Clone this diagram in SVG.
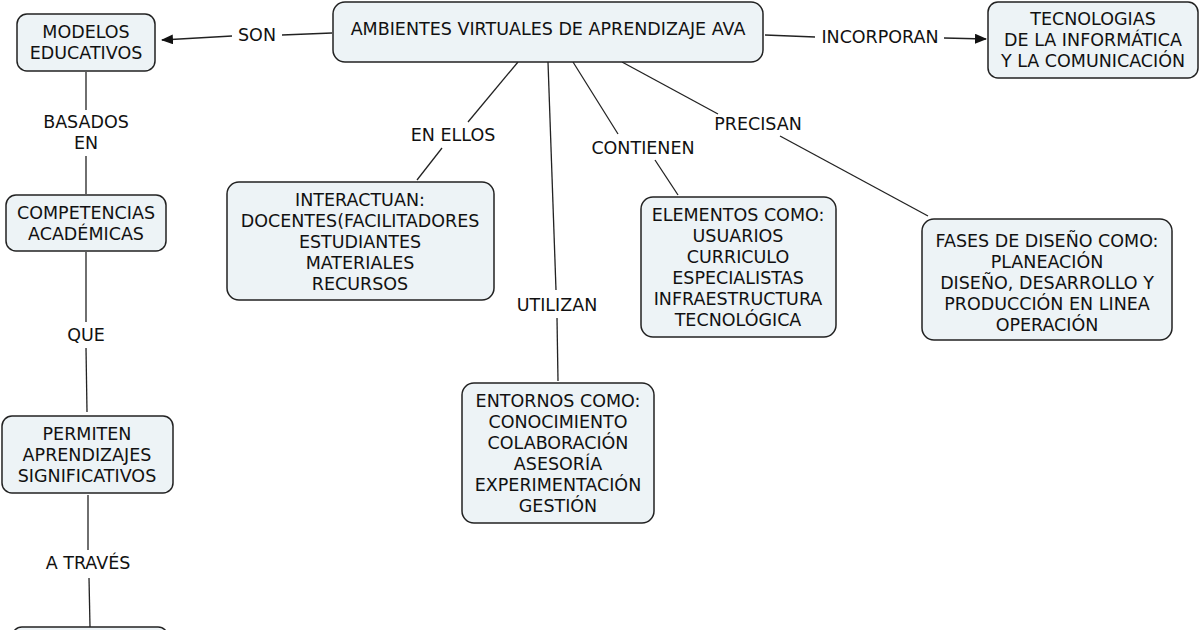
<svg xmlns="http://www.w3.org/2000/svg" width="1200" height="630" viewBox="0 0 1200 630">
<style>
.n rect{fill:#edf3f6;stroke:#222;stroke-width:1.5}
text{font-family:"DejaVu Sans",Verdana,sans-serif;font-size:17.5px;fill:#111;text-anchor:middle}
.c line{stroke:#222;stroke-width:1.3}
</style>
<defs><marker id="a" markerWidth="12" markerHeight="10" refX="11" refY="5" orient="auto" markerUnits="userSpaceOnUse"><path d="M0,0L12,5L0,10z" fill="#111"/></marker></defs>
<rect width="1200" height="630" fill="#fff"/>
<g class="c">
<line x1="332" y1="33" x2="282" y2="35"/><line x1="232" y1="36" x2="162" y2="40" marker-end="url(#a)"/>
<line x1="765" y1="35" x2="815" y2="37"/><line x1="944" y1="38" x2="986" y2="39" marker-end="url(#a)"/>
<line x1="86" y1="72" x2="86" y2="110"/><line x1="86" y1="156" x2="86" y2="194"/>
<line x1="86" y1="252" x2="86" y2="322"/><line x1="86" y1="348" x2="87" y2="412"/>
<line x1="88" y1="495" x2="88" y2="550"/><line x1="89" y1="578" x2="90" y2="627"/>
<line x1="518" y1="62" x2="468" y2="122"/><line x1="442" y1="148" x2="417" y2="180"/>
<line x1="548" y1="62" x2="556" y2="290"/><line x1="557" y1="318" x2="558" y2="381"/>
<line x1="573" y1="62" x2="618" y2="134"/><line x1="655" y1="160" x2="678" y2="195"/>
<line x1="622" y1="62" x2="718" y2="114"/><line x1="780" y1="136" x2="928" y2="216"/>
</g>
<g class="l">
<text x="257" y="41">SON</text><text x="880" y="43">INCORPORAN</text>
<text x="86" y="128">BASADOS</text><text x="86" y="149">EN</text>
<text x="86" y="341">QUE</text><text x="88" y="569">A TRAVÉS</text>
<text x="453" y="141">EN ELLOS</text><text x="557" y="311">UTILIZAN</text>
<text x="643" y="154">CONTIENEN</text><text x="758" y="130">PRECISAN</text>
</g>
<g id="ava" class="n"><rect x="333" y="2" width="430" height="60" rx="12"/><text x="548" y="35">AMBIENTES VIRTUALES DE APRENDIZAJE AVA</text></g>
<g id="modelos" class="n"><rect x="17" y="14" width="138" height="57" rx="10"/><text x="86" y="38">MODELOS</text><text x="86" y="59">EDUCATIVOS</text></g>
<g id="tic" class="n"><rect x="988" y="2" width="210" height="76" rx="10"/><text x="1093" y="25">TECNOLOGIAS</text><text x="1093" y="46">DE LA INFORMÁTICA</text><text x="1093" y="67">Y LA COMUNICACIÓN</text></g>
<g id="comp" class="n"><rect x="6" y="195" width="160" height="56" rx="10"/><text x="86" y="219">COMPETENCIAS</text><text x="86" y="240">ACADÉMICAS</text></g>
<g id="permiten" class="n"><rect x="2" y="416" width="171" height="77" rx="10"/><text x="87" y="440">PERMITEN</text><text x="87" y="461">APRENDIZAJES</text><text x="87" y="482">SIGNIFICATIVOS</text></g>
<g id="bottom" class="n"><rect x="12" y="627" width="156" height="40" rx="10"/></g>
<g id="interact" class="n"><rect x="227" y="182" width="267" height="118" rx="12"/><text x="360" y="206">INTERACTUAN:</text><text x="360" y="227">DOCENTES(FACILITADORES</text><text x="360" y="248">ESTUDIANTES</text><text x="360" y="269">MATERIALES</text><text x="360" y="290">RECURSOS</text></g>
<g id="entornos" class="n"><rect x="462" y="383" width="192" height="140" rx="12"/><text x="558" y="407">ENTORNOS COMO:</text><text x="558" y="428">CONOCIMIENTO</text><text x="558" y="449">COLABORACIÓN</text><text x="558" y="470">ASESORÍA</text><text x="558" y="491">EXPERIMENTACIÓN</text><text x="558" y="512">GESTIÓN</text></g>
<g id="elementos" class="n"><rect x="641" y="197" width="195" height="140" rx="12"/><text x="738" y="221">ELEMENTOS COMO:</text><text x="738" y="242">USUARIOS</text><text x="738" y="263">CURRICULO</text><text x="738" y="284">ESPECIALISTAS</text><text x="738" y="305">INFRAESTRUCTURA</text><text x="738" y="326">TECNOLÓGICA</text></g>
<g id="fases" class="n"><rect x="922" y="219" width="250" height="121" rx="12"/><text x="1047" y="247">FASES DE DISEÑO COMO:</text><text x="1047" y="268">PLANEACIÓN</text><text x="1047" y="289">DISEÑO, DESARROLLO Y</text><text x="1047" y="310">PRODUCCIÓN EN LINEA</text><text x="1047" y="331">OPERACIÓN</text></g>
</svg>
